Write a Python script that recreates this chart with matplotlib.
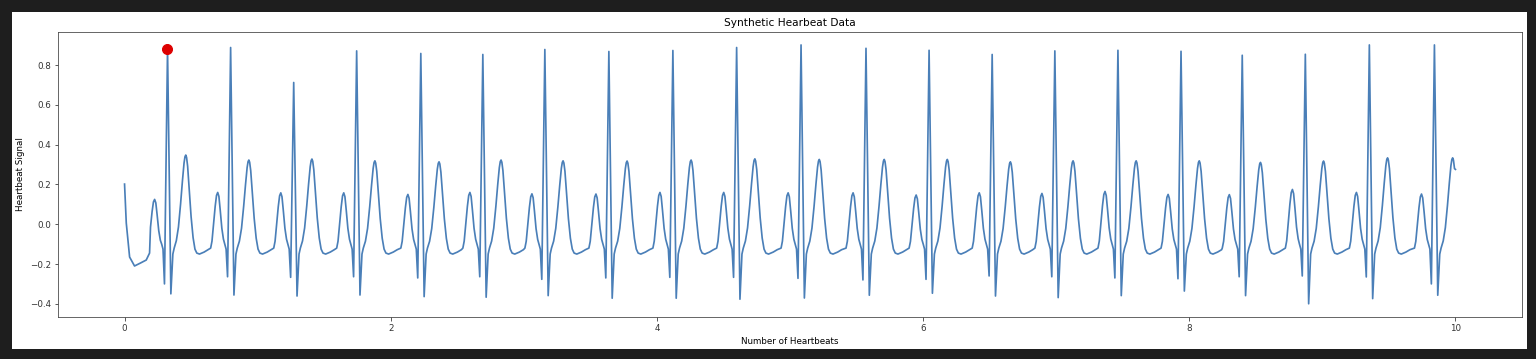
import numpy as np
import matplotlib
matplotlib.use('Agg')
import matplotlib.pyplot as plt
from matplotlib.patches import Rectangle

# Synthetic heartbeat trace

# lead-in before the first beat
start_x = [0.000, 0.013, 0.038, 0.075, 0.120, 0.163, 0.188]
start_y = [0.202, 0.006, -0.165, -0.210, -0.195, -0.180, -0.145]

# last sample of the trace
end_x = [10.0]
end_y = [0.276]

# per-beat landmarks: R peak time / height, Q and S dips, P and T waves
r_time = [0.323, 0.797, 1.271, 1.744, 2.226, 2.692, 3.158, 3.639, 4.120, 4.599, 5.083,
          5.571, 6.045, 6.519, 6.990, 7.464, 7.938, 8.398, 8.872, 9.353, 9.842]
r_height = [0.884, 0.889, 0.713, 0.872, 0.859, 0.854, 0.879, 0.869, 0.874, 0.889, 0.902,
            0.885, 0.875, 0.854, 0.872, 0.875, 0.870, 0.850, 0.855, 0.902, 0.902]
q_depth = [-0.300, -0.264, -0.267, -0.264, -0.270, -0.264, -0.277, -0.270, -0.267, -0.267, -0.272,
           -0.280, -0.277, -0.260, -0.264, -0.270, -0.274, -0.264, -0.260, -0.265, -0.300]
s_depth = [-0.350, -0.356, -0.361, -0.356, -0.364, -0.367, -0.359, -0.372, -0.372, -0.377, -0.371,
           -0.357, -0.347, -0.361, -0.369, -0.359, -0.336, -0.359, -0.400, -0.374, -0.357]
p_height = [0.125, 0.160, 0.158, 0.158, 0.150, 0.160, 0.153, 0.152, 0.160, 0.160, 0.158,
            0.158, 0.147, 0.158, 0.155, 0.165, 0.150, 0.149, 0.175, 0.160, 0.152]
t_height = [0.348, 0.323, 0.328, 0.319, 0.314, 0.323, 0.319, 0.318, 0.323, 0.329, 0.326,
            0.326, 0.326, 0.314, 0.319, 0.319, 0.319, 0.311, 0.318, 0.334, 0.334]

# shape of one beat (beat 2) around its R peak
beat_dt = [-0.150, -0.140, -0.128, -0.116, -0.106, -0.097, -0.088, -0.078, -0.066, -0.054,
           -0.044, -0.034, -0.023, 0.000, 0.025, 0.040, 0.050, 0.066, 0.082, 0.098,
           0.112, 0.124, 0.131, 0.137, 0.143, 0.151, 0.163, 0.177, 0.192, 0.206,
           0.220, 0.240, 0.275, 0.305]
beat_y = [-0.120, -0.085, 0.000, 0.090, 0.145, 0.160, 0.140, 0.070, -0.020, -0.075,
          -0.100, -0.125, -0.264, 0.889, -0.356, -0.150, -0.120, -0.085, -0.020, 0.090,
          0.200, 0.285, 0.315, 0.323, 0.312, 0.270, 0.160, 0.030, -0.070, -0.125,
          -0.145, -0.150, -0.140, -0.128]

# marked point
mark_x = [0.321]
mark_y = [0.880]

base = -0.12
p_idx = range(1, 10)
t_idx = range(17, 30)
q_k, r_k, s_k, p_k, t_k = 12, 13, 14, 5, 23

xs, ys = [], []
for i in range(len(r_time)):
    y = list(beat_y)
    for k in p_idx:
        y[k] = base + (beat_y[k] - base) * (p_height[i] - base) / (beat_y[p_k] - base)
    for k in t_idx:
        y[k] = base + (beat_y[k] - base) * (t_height[i] - base) / (beat_y[t_k] - base)
    y[q_k] = q_depth[i]
    y[r_k] = r_height[i]
    y[s_k] = s_depth[i]
    for dt, v in zip(beat_dt, y):
        xs.append(r_time[i] + dt)
        ys.append(v)

xs = np.array(xs)
ys = np.array(ys)
keep = (xs > start_x[-1]) & (xs < end_x[0])
x = np.concatenate([start_x, xs[keep], end_x])
y = np.concatenate([start_y, ys[keep], end_y])

plt.rcParams['font.size'] = 8.8
plt.rcParams['axes.edgecolor'] = '#444444'
plt.rcParams['xtick.color'] = '#333333'
plt.rcParams['ytick.color'] = '#333333'

fig = plt.figure(figsize=(1536 / 72, 359 / 72), dpi=72, facecolor='#1e1e1e')
fig.add_artist(Rectangle((12 / 1536, 9.7 / 359), 1515 / 1536, 337.3 / 359,
                         transform=fig.transFigure, facecolor='white', edgecolor='none', zorder=0))
ax = fig.add_axes([58 / 1536, 1 - 316.7 / 359, 1464 / 1536, 284.7 / 359])

ax.plot(x, y, color='#4a7fb8', lw=1.7)
ax.plot(mark_x, mark_y, 'o', color='#dd0000', markersize=10)

ax.set_title('Synthetic Hearbeat Data')
ax.set_xlabel('Number of Heartbeats')
ax.set_ylabel('Heartbeat Signal', labelpad=5)
ax.set_xticks([0, 2, 4, 6, 8, 10])
ax.set_yticks([-0.4, -0.2, 0.0, 0.2, 0.4, 0.6, 0.8])

fig.savefig('out.png', dpi=72, facecolor=fig.get_facecolor())
